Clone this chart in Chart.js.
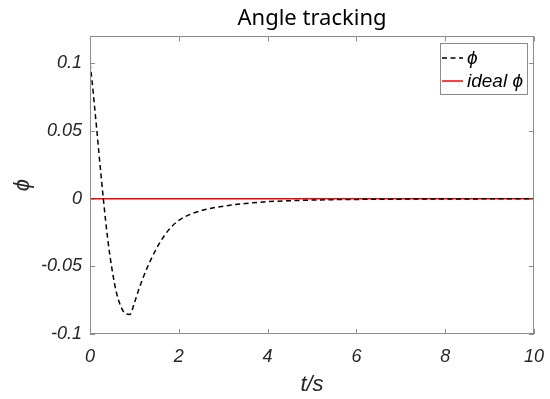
<!DOCTYPE html>
<html>
<head>
<meta charset="utf-8">
<script src="https://cdn.jsdelivr.net/npm/chart.js@4.4.0/dist/chart.umd.min.js"></script>
<style>
  html, body { margin: 0; padding: 0; background: #fff; }
  #wrap { width: 550px; height: 399px; }
</style>
</head>
<body>
<div id="wrap"><canvas id="chart"></canvas></div>
<script>
// phi response (t in seconds)
var time = [0, 0.05, 0.1, 0.15, 0.2, 0.25, 0.3, 0.4, 0.5, 0.6, 0.7, 0.8, 0.9, 1.0, 1.1, 1.2, 1.4, 1.6, 1.8, 2.0, 2.3, 2.6, 3.0, 3.5, 4, 5, 6, 7, 8, 9, 10];
var phi = [0.1, 0.086, 0.069, 0.052, 0.034, 0.017, 0.0, -0.03, -0.053, -0.07, -0.08, -0.085, -0.0855, -0.077, -0.067, -0.058, -0.043, -0.031, -0.022, -0.016, -0.011, -0.008, -0.0055, -0.0035, -0.0022, -0.001, -0.0005, -0.0003, -0.0002, -0.0001, -0.0001];
var idealTime = [0, 10];
var idealPhi = [0, 0];

var xTicks = [0, 2, 4, 6, 8, 10];
var yTicks = [-0.1, -0.05, 0, 0.05, 0.1];
var yTickLabels = ['-0.1', '-0.05', '0', '0.05', '0.1'];

var tickFont = { family: '"Liberation Sans", Arial, sans-serif', size: 18, style: 'italic' };
var textColor = '#262626';
var frameColor = '#8c8c8c';

function points(xs, ys) {
    return xs.map(function(x, i) { return { x: x, y: ys[i] }; });
}

// MATLAB-like box with inward tick marks on all four sides
var frame = {
    id: 'frame',
    afterDatasetsDraw: function(chart) {
        var ctx = chart.ctx, a = chart.chartArea;
        var xs = chart.scales.x, ys = chart.scales.y;
        ctx.save();
        ctx.strokeStyle = frameColor;
        ctx.lineWidth = 1;
        ctx.strokeRect(Math.round(a.left) + 0.5, Math.round(a.top) + 0.5,
            Math.round(a.right - a.left) - 1, Math.round(a.bottom - a.top) - 1);
        ctx.beginPath();
        xTicks.forEach(function(t) {
            var px = Math.round(xs.getPixelForValue(t)) + 0.5;
            ctx.moveTo(px, a.bottom); ctx.lineTo(px, a.bottom - 5);
            ctx.moveTo(px, a.top); ctx.lineTo(px, a.top + 5);
        });
        yTicks.forEach(function(v) {
            var py = Math.round(ys.getPixelForValue(v)) + 0.5;
            ctx.moveTo(a.left, py); ctx.lineTo(a.left + 5, py);
            ctx.moveTo(a.right, py); ctx.lineTo(a.right - 5, py);
        });
        ctx.stroke();
        ctx.restore();
    }
};

// legend box inside the top right corner of the plot
var boxLegend = {
    id: 'boxLegend',
    afterDraw: function(chart) {
        var ctx = chart.ctx, a = chart.chartArea;
        var sets = chart.data.datasets;
        ctx.save();
        ctx.font = 'italic 19px "Liberation Sans", Arial, "DejaVu Sans", sans-serif';
        var textW = Math.max.apply(null, sets.map(function(d) { return ctx.measureText(d.label).width; }));
        var w = Math.round(1 + 22 + 4 + textW + 4), h = 51;
        var x0 = Math.round(a.right - 7 - w), y0 = Math.round(a.top + 7);
        ctx.fillStyle = '#fff';
        ctx.fillRect(x0, y0, w, h);
        ctx.strokeStyle = frameColor;
        ctx.lineWidth = 1;
        ctx.strokeRect(x0 + 0.5, y0 + 0.5, w, h);
        sets.forEach(function(d, i) {
            var y = y0 + 15 + i * 23;
            ctx.beginPath();
            ctx.setLineDash(d.borderDash || []);
            ctx.strokeStyle = d.borderColor;
            ctx.lineWidth = d.borderWidth;
            ctx.moveTo(x0 + 2, y);
            ctx.lineTo(x0 + 23, y);
            ctx.stroke();
            ctx.setLineDash([]);
            ctx.fillStyle = '#000';
            ctx.textBaseline = 'middle';
            ctx.fillText(d.label, x0 + 27, y + 1);
        });
        ctx.restore();
    }
};

new Chart(document.getElementById('chart'), {
    type: 'line',
    data: {
        datasets: [{
            label: '\u03d5',
            data: points(time, phi),
            borderColor: '#000',
            borderWidth: 1.5,
            borderDash: [5, 3.5],
            pointRadius: 0,
            cubicInterpolationMode: 'monotone',
            fill: false
        }, {
            label: 'ideal \u03d5',
            data: points(idealTime, idealPhi),
            borderColor: '#ff0000',
            borderWidth: 1.5,
            pointRadius: 0,
            fill: false
        }]
    },
    options: {
        responsive: true,
        maintainAspectRatio: false,
        animation: false,
        layout: { padding: { left: 0, right: 16, top: 0, bottom: 0 } },
        plugins: {
            legend: { display: false },
            tooltip: { enabled: false },
            title: {
                display: true,
                text: 'Angle tracking',
                fullSize: false,
                color: '#000',
                font: { family: '"Noto Sans", sans-serif', size: 22, weight: 'normal' },
                padding: { top: 6, bottom: 4 }
            }
        },
        scales: {
            x: {
                type: 'linear',
                min: 0,
                max: 10,
                afterFit: function(scale) {
                    scale.height = 65;
                    scale.paddingLeft = 0;
                    scale.paddingRight = 0;
                },
                grid: { display: false, drawTicks: false },
                border: { display: false },
                ticks: {
                    stepSize: 2,
                    padding: 12,
                    autoSkip: false,
                    maxRotation: 0,
                    color: textColor,
                    font: tickFont
                },
                title: {
                    display: true,
                    text: 't/s',
                    color: textColor,
                    font: { family: '"Liberation Sans", Arial, sans-serif', size: 22, style: 'italic' },
                    padding: { top: 0, bottom: 1 }
                }
            },
            y: {
                type: 'linear',
                min: -0.1,
                max: 0.12,
                afterFit: function(scale) { scale.width = 90; },
                grid: { display: false, drawTicks: false },
                border: { display: false },
                ticks: {
                    stepSize: 0.05,
                    includeBounds: false,
                    padding: 8,
                    color: textColor,
                    font: tickFont,
                    callback: function(value) {
                        for (var i = 0; i < yTicks.length; i++) {
                            if (Math.abs(yTicks[i] - value) < 1e-6) return yTickLabels[i];
                        }
                        return '';
                    }
                },
                title: {
                    display: true,
                    text: '\u03d5',
                    color: textColor,
                    font: { family: '"Liberation Sans", "DejaVu Sans", sans-serif', size: 22, style: 'italic' },
                    padding: { top: 10, bottom: 0 }
                }
            }
        }
    },
    plugins: [frame, boxLegend]
});
</script>
</body>
</html>
